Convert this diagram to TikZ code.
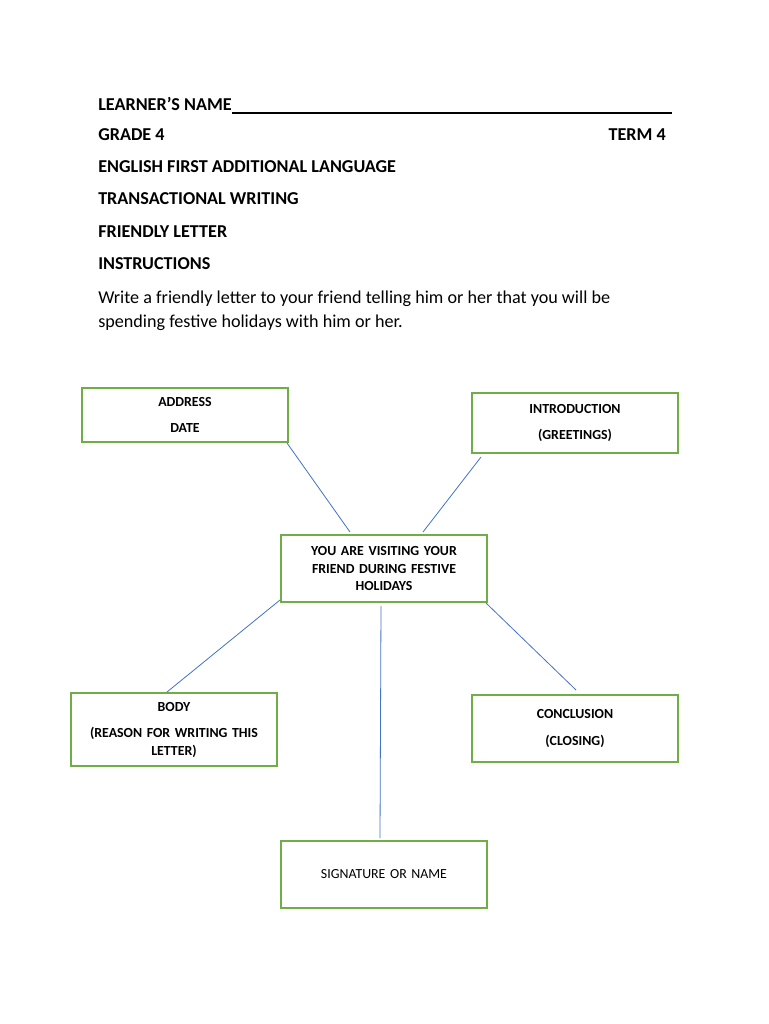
\documentclass[tikz,border=0pt]{standalone}
\usepackage{fontspec}
\setmainfont{Carlito}
\definecolor{boxgreen}{HTML}{70AD47}
\definecolor{lineblue}{HTML}{4472C4}
\begin{document}
\begin{tikzpicture}[x=0.75pt,y=-0.75pt,
  head/.style={anchor=base west,inner sep=0pt,font=\fontsize{13.6}{16}\selectfont\bfseries},
  para/.style={anchor=base west,inner sep=0pt,font=\fontsize{13.6}{17.3}\selectfont,align=left},
  box/.style={draw=boxgreen,line width=1.1pt,minimum width=154.5pt,inner sep=0pt,text width=150pt,align=center,font=\fontsize{10.4}{13.1}\selectfont\bfseries},
  conn/.style={draw=lineblue,line width=0.6pt}]
\useasboundingbox[fill=white] (0,0) rectangle (768,1024);

% header
\node[head] (name) at (98,110.5) {LEARNER’S NAME};
\draw[line width=0.9pt] (name.base east) ++(0,2.5) coordinate (u1) -- (672,113) coordinate (u2);
\node[head] (grade) at (98,140.5) {GRADE 4};
\node[head,anchor=base east] (term) at (666,140.5) {TERM 4};
\node[head] (efal) at (98,172.5) {ENGLISH FIRST ADDITIONAL LANGUAGE};
\node[head] (tw) at (98,204.5) {TRANSACTIONAL WRITING};
\node[head] (fl) at (98,237) {FRIENDLY LETTER};
\node[head] (ins) at (98,269.5) {INSTRUCTIONS};
\node[para] (task) at (98,327) {Write a friendly letter to your friend telling him or her that you will be\\spending festive holidays with him or her.};

% boxes
\node[box,minimum height=40.5pt] (addr) at (185,415) {ADDRESS\\[6.8pt]DATE};
\node[box,minimum height=45pt] (intro) at (575,423) {INTRODUCTION\\[6.8pt](GREETINGS)};
\node[box,minimum height=50.25pt] (centre) at (384,568.5) {YOU ARE VISITING YOUR\\FRIEND DURING FESTIVE\\HOLIDAYS};
\node[box,minimum height=54.75pt] (body) at (174,729.5) {BODY\\[6.8pt](REASON FOR WRITING THIS\\LETTER)};
\node[box,minimum height=50.25pt] (concl) at (575,728.5) {CONCLUSION\\[6.8pt](CLOSING)};
\node[box,minimum height=50.25pt,font=\fontsize{10.4}{13.1}\selectfont] (sig) at (384,874.5) {SIGNATURE OR NAME};

% connector end points
\coordinate (a1) at (287,443);
\coordinate (a2) at (350,532);
\coordinate (i1) at (481,457);
\coordinate (i2) at (423,532);
\coordinate (b1) at (280,600);
\coordinate (b2) at (167,692);
\coordinate (c1) at (486,603);
\coordinate (c2) at (576,690);
\coordinate (s1) at (381,606);
\coordinate (s2) at (380,838);

\draw[conn] (a1) -- (a2);
\draw[conn] (i1) -- (i2);
\draw[conn] (b1) -- (b2);
\draw[conn] (c1) -- (c2);
\draw[conn] (s1) -- (s2);
\end{tikzpicture}
\end{document}
